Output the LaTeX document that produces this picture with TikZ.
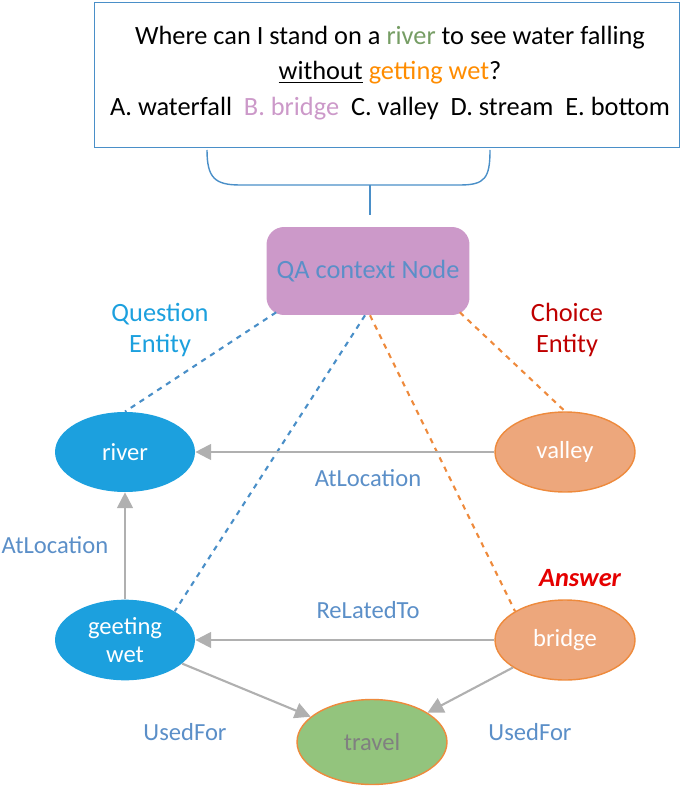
\documentclass[tikz,border=0pt]{standalone}
\usepackage{fontspec}
\setmainfont{Carlito}
\usetikzlibrary{shapes.geometric,arrows.meta}
\definecolor{boxblue}{HTML}{4A8FC8}
\definecolor{entblue}{HTML}{1CA0DE}
\definecolor{choiceor}{HTML}{EDA77C}
\definecolor{travgreen}{HTML}{93C47D}
\definecolor{qapink}{HTML}{CC99C9}
\definecolor{labblue}{HTML}{5B8FC8}
\definecolor{edgegray}{HTML}{B0B0B0}
\definecolor{dashblue}{HTML}{4A8FC8}
\definecolor{dashor}{HTML}{EE8A3C}
\begin{document}
\begin{tikzpicture}[x=0.02cm,y=-0.02cm,
  ent/.style={ellipse,minimum width=140\pgflinewidth*0+2.8cm,minimum height=1.6cm,font=\fontsize{14}{16}\selectfont,text=white,align=center},
  qent/.style={ent,fill=entblue},
  cent/.style={ent,fill=choiceor,draw=dashor,line width=0.8pt},
  rel/.style={draw=edgegray,line width=1.2pt,-{Triangle[length=9pt,width=9pt]}},
  lab/.style={text=labblue,font=\fontsize{14}{16}\selectfont},
  qd/.style={draw=dashblue,dashed,line width=1.2pt},
  cd/.style={draw=dashor,dashed,line width=1.2pt}]
\useasboundingbox (0,0) rectangle (685,793);
% question box
\node[draw=boxblue,line width=0.8pt,minimum width=11.7cm,minimum height=2.9cm] (box) at (387,75) {};
\node[font=\fontsize{15}{18}\selectfont,align=center] (q) at (390,73)
 {Where can I stand on a \textcolor{travgreen!80!black}{river} to see water falling\\[2pt]
  \underline{without} \textcolor{orange!90!yellow}{getting wet}?\\[2pt]
  A. waterfall\ \ \textcolor{qapink}{B. bridge}\ \ C. valley\ \ D. stream\ \ E. bottom};
% brace
\coordinate (bl) at (207,150);
\coordinate (br) at (490,150);
\coordinate (bt) at (370,215);
\draw[boxblue,line width=0.8pt] (bl) .. controls (207,178) and (215,185) .. (240,185) -- (460,185) .. controls (485,185) and (490,178) .. (br);
\draw[boxblue,line width=0.8pt] (370,185) -- (bt);
% QA node
\node[fill=qapink,rounded corners=10pt,minimum width=4.06cm,minimum height=1.76cm,text=labblue,font=\fontsize{15}{18}\selectfont] (qa) at (368,271) {QA context Node};
% entities
\node[qent] (river) at (125,452) {river};
\node[cent] (valley) at (565,452) {valley};
\node[qent] (wet) at (125,640) {geeting\\wet};
\node[cent] (bridge) at (565,640) {bridge};
\node[ent,fill=travgreen,draw=dashor,line width=0.8pt,text=gray,minimum width=3cm,minimum height=1.7cm] (travel) at (372,742) {travel};
% dashed links
\draw[qd] (qa.south west) ++(10,-3) coordinate (qa1) -- (river.north);
\draw[qd] (qa.south) ++(-3,0) coordinate (qa2) -- (wet.north east);
\draw[cd] (qa.south) ++(2,0) coordinate (qa3) -- (bridge.north west);
\draw[cd] (qa.south east) ++(-10,-3) coordinate (qa4) -- (valley.north);
% relations
\draw[rel] (valley) -- (river);
\draw[rel] (wet) -- (river);
\draw[rel] (bridge) -- (wet);
\draw[rel] (wet) -- (travel);
\draw[rel] (bridge) -- (travel);
% labels
\node[text=entblue,font=\fontsize{15}{18}\selectfont,align=center] (qlab) at (160,330) {Question\\Entity};
\node[text=red!75!black,font=\fontsize{15}{18}\selectfont,align=center] (clab) at (567,330) {Choice\\Entity};
\node[lab] (l1) at (368,478) {AtLocation};
\node[lab] (l2) at (55,545) {AtLocation};
\node[lab] (l3) at (368,610) {ReLatedTo};
\node[lab] (l4) at (185,732) {UsedFor};
\node[lab] (l5) at (530,732) {UsedFor};
\node[text=red!90!black,font=\fontsize{15}{18}\selectfont\bfseries\itshape] (ans) at (580,578) {Answer};
\end{tikzpicture}
\end{document}
